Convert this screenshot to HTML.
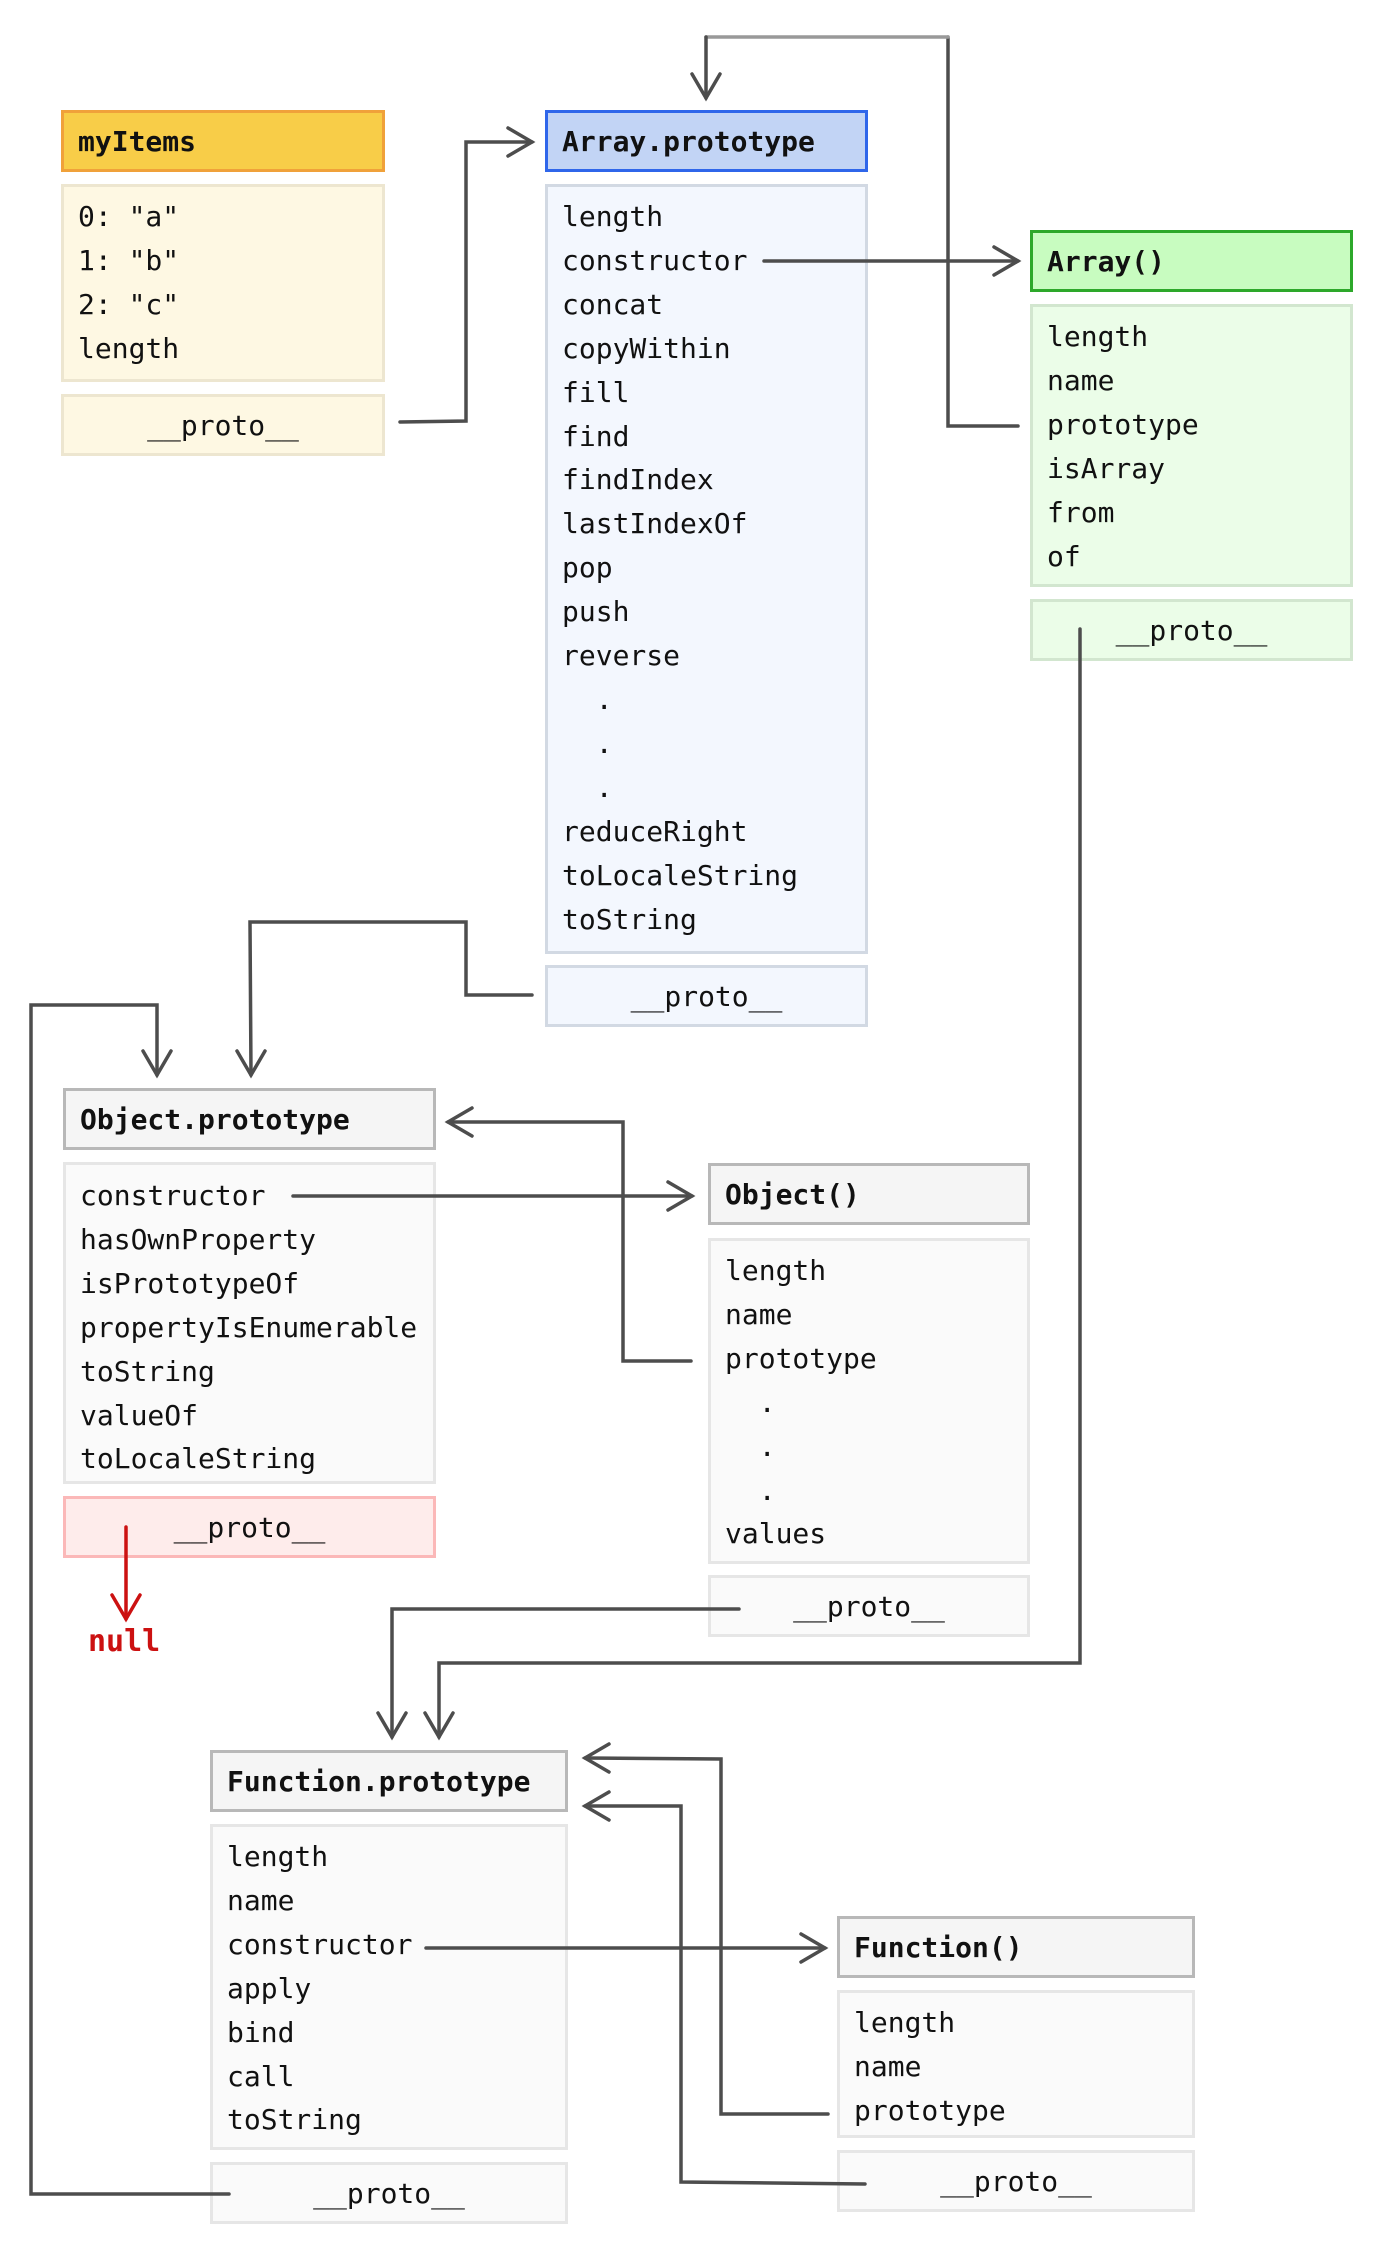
<!DOCTYPE html>
<html><head><meta charset="utf-8"><style>
html,body{margin:0;padding:0;background:#fff}
body{width:1376px;height:2242px;position:relative;overflow:hidden;font-family:"DejaVu Sans Mono","Liberation Mono",monospace;font-size:28px;color:#111}
.b{position:absolute;box-sizing:border-box;border:3px solid}
.h{font-weight:bold;padding-left:14px;display:flex;align-items:center}
.bd{padding:8px 0 0 14px;line-height:43.9px;white-space:pre}
.p{display:flex;align-items:center;justify-content:center}
.y1{background:#f8cd48;border-color:#f0a13a}
.y2{background:#fef8e3;border-color:#ede6d0}
.b1{background:#c2d4f5;border-color:#2f66ea}
.b2{background:#f3f7fe;border-color:#d2d9e3}
.g1{background:#c8fcc0;border-color:#2da82a}
.g2{background:#ebfde8;border-color:#d2e6cf}
.k1{background:#f5f5f5;border-color:#b8b8b8}
.k2{background:#fafafa;border-color:#e6e6e6}
.r{background:#feeceb;border-color:#fbb8b8}
svg{position:absolute;left:0;top:0}
</style></head><body>

<div class="b h y1" style="left:61px;top:110px;width:324px;height:62px">myItems</div>
<div class="b bd y2" style="left:61px;top:184px;width:324px;height:198px">0: "a"
1: "b"
2: "c"
length</div>
<div class="b p y2" style="left:61px;top:394px;width:324px;height:62px">__proto__</div>

<div class="b h b1" style="left:545px;top:110px;width:323px;height:62px">Array.prototype</div>
<div class="b bd b2" style="left:545px;top:184px;width:323px;height:770px">length
constructor
concat
copyWithin
fill
find
findIndex
lastIndexOf
pop
push
reverse
  .
  .
  .
reduceRight
toLocaleString
toString</div>
<div class="b p b2" style="left:545px;top:965px;width:323px;height:62px">__proto__</div>

<div class="b h g1" style="left:1030px;top:230px;width:323px;height:62px">Array()</div>
<div class="b bd g2" style="left:1030px;top:304px;width:323px;height:283px">length
name
prototype
isArray
from
of</div>
<div class="b p g2" style="left:1030px;top:599px;width:323px;height:62px">__proto__</div>

<div class="b h k1" style="left:63px;top:1088px;width:373px;height:62px">Object.prototype</div>
<div class="b bd k2" style="left:63px;top:1162px;width:373px;height:322px;padding-top:9px">constructor
hasOwnProperty
isPrototypeOf
propertyIsEnumerable
toString
valueOf
toLocaleString</div>
<div class="b p r" style="left:63px;top:1496px;width:373px;height:62px">__proto__</div>
<div style="position:absolute;left:88px;top:1624px;color:#cc1111;font-weight:bold;font-size:30px">null</div>

<div class="b h k1" style="left:708px;top:1163px;width:322px;height:62px">Object()</div>
<div class="b bd k2" style="left:708px;top:1238px;width:322px;height:326px">length
name
prototype
  .
  .
  .
values</div>
<div class="b p k2" style="left:708px;top:1575px;width:322px;height:62px">__proto__</div>

<div class="b h k1" style="left:210px;top:1750px;width:358px;height:62px">Function.prototype</div>
<div class="b bd k2" style="left:210px;top:1824px;width:358px;height:326px">length
name
constructor
apply
bind
call
toString</div>
<div class="b p k2" style="left:210px;top:2162px;width:358px;height:62px">__proto__</div>

<div class="b h k1" style="left:837px;top:1916px;width:358px;height:62px">Function()</div>
<div class="b bd k2" style="left:837px;top:1990px;width:358px;height:148px">length
name
prototype</div>
<div class="b p k2" style="left:837px;top:2150px;width:358px;height:62px">__proto__</div>

<svg width="1376" height="2242" viewBox="0 0 1376 2242" fill="none" stroke="#4d4d4d" stroke-width="3.5" stroke-linecap="round" stroke-linejoin="miter">
  <polyline points="400,422 466,421 466,142 532,142"/>
  <polyline points="508,128 532,142 508,156"/>
  <polyline points="1018,426 948,426 948,37"/>
  <polyline points="948,37 706,37" stroke="#999"/>
  <polyline points="706,37 706,98"/>
  <polyline points="692,74 706,98 720,74"/>
  <polyline points="764,261 1018,261"/>
  <polyline points="994,247 1018,261 994,275"/>
  <polyline points="532,995 466,995 466,922 250,922 251,1075"/>
  <polyline points="237,1051 251,1075 265,1051"/>
  <polyline points="229,2194 31,2194 31,1005 157,1005 157,1075"/>
  <polyline points="143,1051 157,1075 171,1051"/>
  <polyline points="293,1196 692,1196"/>
  <polyline points="668,1182 692,1196 668,1210"/>
  <polyline points="691,1361 623,1361 623,1122 448,1122"/>
  <polyline points="472,1108 448,1122 472,1136"/>
  <polyline points="126,1527 126,1619" stroke="#cc1111"/>
  <polyline points="112,1595 126,1619 140,1595" stroke="#cc1111"/>
  <polyline points="739,1609 392,1609 392,1737"/>
  <polyline points="378,1713 392,1737 406,1713"/>
  <polyline points="1080,629 1080,1663 439,1663 439,1737"/>
  <polyline points="425,1713 439,1737 453,1713"/>
  <polyline points="426,1948 825,1948"/>
  <polyline points="801,1934 825,1948 801,1962"/>
  <polyline points="828,2114 721,2114 721,1759 585,1758"/>
  <polyline points="609,1744 585,1758 609,1772"/>
  <polyline points="865,2184 681,2182 681,1806 585,1806"/>
  <polyline points="609,1792 585,1806 609,1820"/>
</svg>
</body></html>
